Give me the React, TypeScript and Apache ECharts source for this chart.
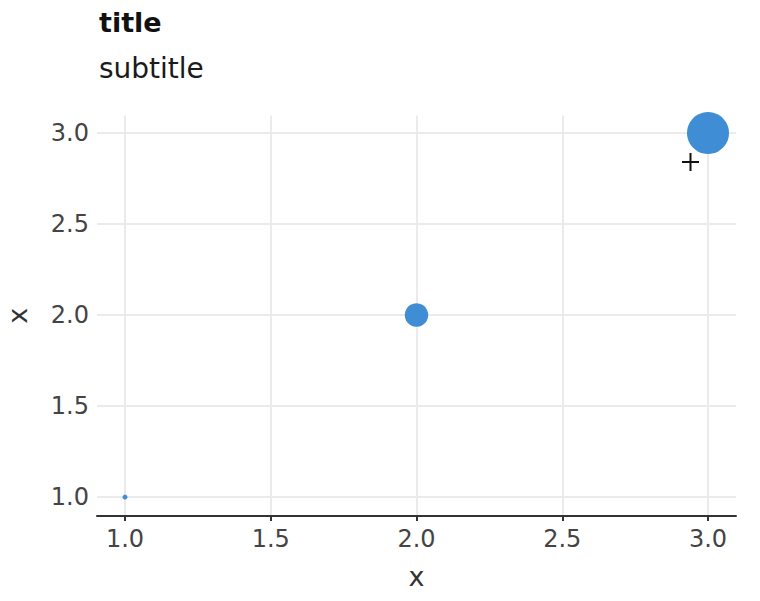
import React, { useEffect, useRef } from "react";
import * as echarts from "echarts";

const xValues = [1, 2, 3];
const yValues = [1, 2, 3];
const sizeValues = [1, 2, 3];
const tickValues = [1, 1.5, 2, 2.5, 3];

const FONT = "DejaVu Sans";

export default function App() {
  const ref = useRef<HTMLDivElement>(null);
  useEffect(() => {
    if (!ref.current) return;
    const chart = echarts.init(ref.current, undefined, { renderer: "svg" });
    const data = xValues.map((x, i) => [x, yValues[i], sizeValues[i]]);
    chart.setOption({
      animation: false,
      backgroundColor: "#ffffff",
      title: {
        text: "title",
        subtext: "subtitle",
        left: 94,
        top: 4,
        itemGap: 18,
        textStyle: { fontFamily: FONT, fontSize: 27, fontWeight: "bold", color: "#111111" },
        subtextStyle: { fontFamily: FONT, fontSize: 28, color: "#1a1a1a" },
      },
      grid: { left: 97, right: 24, top: 115.5, bottom: 85, containLabel: false, outerBoundsMode: "none" },
      xAxis: {
        type: "value",
        min: 0.904,
        max: 3.096,
        name: "x",
        nameLocation: "middle",
        nameGap: 47,
        nameTextStyle: { fontFamily: FONT, fontSize: 27, color: "#333333" },
        axisLine: { show: true, lineStyle: { color: "#333333", width: 2 } },
        axisTick: { show: true, length: 5, customValues: tickValues, lineStyle: { color: "#333333", width: 2 } },
        axisLabel: {
          customValues: tickValues,
          fontFamily: FONT,
          fontSize: 24,
          color: "#444444",
          margin: 11,
          formatter: (v: number) => v.toFixed(1),
        },
        splitLine: { show: true, lineStyle: { color: "#ebebeb", width: 2 } },
      },
      yAxis: {
        type: "value",
        min: 0.896,
        max: 3.096,
        name: "x",
        nameLocation: "middle",
        nameGap: 66,
        nameRotate: 90,
        nameTextStyle: { fontFamily: FONT, fontSize: 27, color: "#333333" },
        axisLine: { show: false },
        axisTick: { show: false, customValues: tickValues },
        axisLabel: {
          customValues: tickValues,
          fontFamily: FONT,
          fontSize: 24,
          color: "#444444",
          margin: 8,
          formatter: (v: number) => v.toFixed(1),
        },
        splitLine: { show: true, lineStyle: { color: "#ebebeb", width: 2 } },
      },
      series: [
        {
          type: "scatter",
          data,
          symbol: "circle",
          symbolSize: (d: number[]) => 5 + (d[2] - 1) * 18.5,
          itemStyle: { color: "#3f8dd5", opacity: 1 },
        },
      ],
      graphic: [
        { type: "line", shape: { x1: 682, y1: 162, x2: 699, y2: 162 }, style: { stroke: "#111111", lineWidth: 2 } },
        { type: "line", shape: { x1: 690.5, y1: 153, x2: 690.5, y2: 171 }, style: { stroke: "#111111", lineWidth: 2 } },
      ],
    });
    return () => chart.dispose();
  }, []);
  return (
    <div
      ref={ref}
      style={{ position: "fixed", left: 0, top: 0, width: 760, height: 601 }}
    />
  );
}
